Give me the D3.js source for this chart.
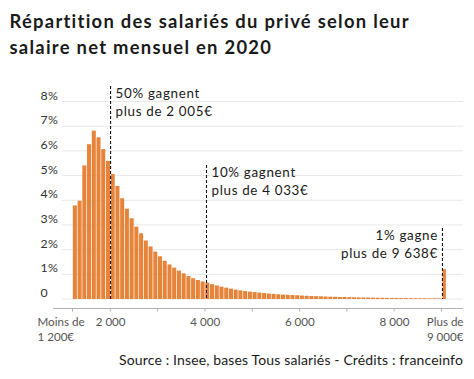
<!DOCTYPE html>
<html><head><meta charset="utf-8">
<script src="https://cdn.jsdelivr.net/npm/d3@7"></script>
<style>
html,body{margin:0;padding:0;background:#fff;}
svg{display:block;font-family:Lato,"Open Sans",sans-serif;}
</style></head>
<body>
<script>
// Bins of 100 € starting at 1 200 €
const binStarts = d3.range(1200, 9000, 100);
const shares = [3.79,3.98,5.41,6.27,6.82,6.55,6.07,5.59,5.06,4.58,
  4.08,3.66,3.27,2.93,2.66,2.37,2.13,1.92,1.73,1.55,
  1.40,1.27,1.15,1.04,0.93,0.84,0.77,0.71,0.66,0.60,
  0.55,0.50,0.46,0.42,0.38,0.35,0.32,0.30,0.28,0.26,
  0.24,0.22,0.21,0.19,0.18,0.17,0.16,0.15,0.14,0.13,
  0.12,0.115,0.11,0.10,0.095,0.09,0.085,0.08,0.075,0.07,
  0.066,0.062,0.058,0.055,0.052,0.049,0.046,0.043,0.041,0.039,
  0.037,0.035,0.033,0.031,0.030,0.029,0.028,0.027];
const topBinStart = 9000;
const topBinShare = 1.21;
const yTicks = [0,1,2,3,4,5,6,7,8];
const xTicks = [1200,2000,3000,4000,5000,6000,7000,8000,9000];
const xLabels = [
  {v:1200, lines:["Moins de","1 200€"], anchor:"start"},
  {v:2000, lines:["2 000"], anchor:"middle"},
  {v:4000, lines:["4 000"], anchor:"middle"},
  {v:6000, lines:["6 000"], anchor:"middle"},
  {v:8000, lines:["8 000"], anchor:"middle"},
  {v:9000, lines:["Plus de","9 000€"], anchor:"end"}
];
const annotations = [
  {v:2005, top:86, lines:["50% gagnent","plus de 2 005€"], side:"right", y0:98},
  {v:4033, top:165, lines:["10% gagnent","plus de 4 033€"], side:"right", y0:177},
  {v:9000, top:228, lines:["1% gagne","plus de 9 638€"], side:"left", y0:240}
];
const titleLines = ["Répartition des salariés du privé selon leur","salaire net mensuel en 2020"];
const source = "Source : Insee, bases Tous salariés - Crédits : franceinfo";

const W=474,H=379;
const svg=d3.select("body").append("svg").attr("width",W).attr("height",H);
const x=d3.scaleLinear().domain([1200,9100]).range([72.5,446.2]);
const y=d3.scaleLinear().domain([0,8]).range([299,101.5]);

// letter-spacing so that a text reaches the width of the reference font
function spacingFor(node, target){
  const cur=node.getComputedTextLength();
  const n=node.textContent.length;
  return (target-cur)/n;
}

// title
const tt = svg.append("g").selectAll("text").data(titleLines).join("text")
  .attr("x",9.5).attr("y",(d,i)=>28.3+i*25.2)
  .attr("font-size",18.4).attr("font-weight",700).attr("fill","#1a1a1a")
  .text(d=>d);
const tls = spacingFor(tt.nodes()[0], 401);
tt.attr("letter-spacing", tls);

// gridlines
svg.append("g").selectAll("line").data(yTicks).join("line")
  .attr("x1",62).attr("x2",463).attr("y1",d=>y(d)).attr("y2",d=>y(d))
  .attr("stroke","#e8e8e8").attr("stroke-width",1);
svg.append("g").selectAll("text").data(yTicks).join("text")
  .attr("x",40.5).attr("y",d=>y(d)-2)
  .attr("font-size",12.3).attr("letter-spacing",0.4).attr("fill","#333")
  .text(d=>d===0?"0":d+"%");

// bars
const bw = x(1300)-x(1200);
svg.append("g").selectAll("rect").data(binStarts.map((b,i)=>({b,v:shares[i]}))).join("rect")
  .attr("x",d=>x(d.b)+0.35).attr("width",bw-0.7)
  .attr("y",d=>y(d.v)).attr("height",d=>y(0)-y(d.v))
  .attr("fill","#e8833a");
svg.append("rect")
  .attr("x",x(topBinStart)+1).attr("width",bw-1.3)
  .attr("y",y(topBinShare)).attr("height",y(0)-y(topBinShare))
  .attr("fill","#e8833a");

// x axis
svg.append("line").attr("x1",53).attr("x2",463).attr("y1",308.5).attr("y2",308.5)
  .attr("stroke","#b3b3b3").attr("stroke-width",1);
svg.append("g").selectAll("line").data(xTicks).join("line")
  .attr("x1",d=>x(d)).attr("x2",d=>x(d)).attr("y1",308.5).attr("y2",311.5)
  .attr("stroke","#b3b3b3");
const xTexts=[];
xLabels.forEach(d=>{
  d.lines.forEach((l,i)=>{
    xTexts.push(svg.append("text")
      .attr("font-size",11.6).attr("fill","#555")
      .attr("text-anchor",d.anchor)
      .attr("x",d.anchor==="start"?37.5:(d.anchor==="end"?463.5:x(d.v)+0.3))
      .attr("y",325.5+i*15.5).text(l));
  });
});
const xls = Math.max(0, spacingFor(xTexts[0].node(), 47));
xTexts.forEach(t=>t.attr("letter-spacing",xls));

// annotations
annotations.forEach(a=>{
  const xv = a.side==="left" ? x(a.v)+1 : x(a.v);
  svg.append("line").attr("x1",xv).attr("x2",xv).attr("y1",a.top).attr("y2",y(0))
    .attr("stroke","#111").attr("stroke-width",1.1).attr("stroke-dasharray","3,2");
  const ts = a.lines.map((l,i)=>svg.append("text").attr("font-size",13.4).attr("fill","#1a1a1a")
    .attr("text-anchor",a.side==="right"?"start":"end")
    .attr("x",a.side==="right"?xv+5:xv-4.5).attr("y",a.y0+i*17.5).text(l));
  const ls = spacingFor(ts[1].node(), 97);
  ts.forEach(t=>t.attr("letter-spacing",ls));
});

// source
const src = svg.append("text").attr("x",463).attr("y",365).attr("text-anchor","end")
  .attr("font-size",14).attr("fill","#1a1a1a").text(source);
src.attr("letter-spacing", spacingFor(src.node(),344));
</script>
</body></html>
